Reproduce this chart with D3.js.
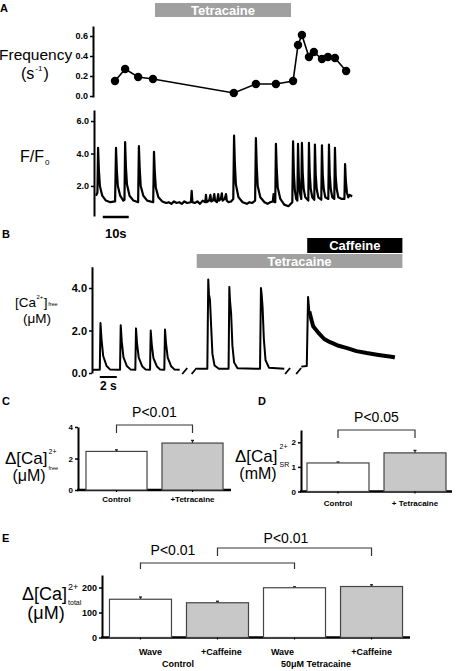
<!DOCTYPE html>
<html><head><meta charset="utf-8">
<script src="https://cdn.jsdelivr.net/npm/d3@7"></script>
<style>
body{margin:0;background:#fff}
svg{display:block}
text{font-family:"Liberation Sans",Arial,sans-serif}
</style>
</head><body>
<svg id="fig" width="474" height="671"></svg>
<script>
// ---------------- DATA ----------------
// Panel A: frequency (s^-1) vs time (s)
const freqTime  = [7.3,11.2,16.2,21.9,53,61.5,69.2,75.8,77.7,79.2,81.9,83.8,86.9,89.2,91.9,96.2];
const freqValue = [0.15,0.27,0.19,0.17,0.03,0.12,0.12,0.15,0.51,0.61,0.39,0.44,0.37,0.39,0.38,0.25];
const freqTicks = [0.0,0.2,0.4,0.6];
const tetraA = [22.7,75];            // s, tetracaine application
// Panel A: F/F0 trace vertices [time s, F/F0]
const ratioTicks = [2,4,6];
const ratioTrace = [
[0,1.4],[0.55,1.6],[0.8,4.35],[1.1,3.0],[1.5,2.0],[2.4,1.4],[3.8,1.1],[5.5,1.0],[7.35,1.05],
[7.7,4.35],[8.0,3.0],[8.4,2.0],[9.3,1.4],[10.5,1.1],[10.95,1.15],
[11.2,4.7],[11.5,3.2],[11.9,2.1],[12.9,1.4],[14.4,1.1],[16.2,1.0],
[16.5,4.45],[16.8,3.1],[17.2,2.0],[18.2,1.4],[19.7,1.1],[22.0,1.0],
[22.3,4.1],[22.6,2.9],[23.0,1.9],[24.0,1.3],[25.5,1.05],[27,0.95],
[28,1.0],[29,0.9],[30,1.05],[31,0.95],[32,1.0],[33,0.9],[34,1.05],[35,0.95],[36.5,1.0],[36.8,1.7],[37.1,1.0],
[38,0.95],[39,1.05],[40,0.9],[41,1.1],[42,1.0],[42.3,1.45],[42.6,1.0],[43.5,1.1],[44,1.45],[44.3,1.05],
[45,1.1],[45.5,1.5],[45.8,1.1],[46.5,1.0],[47,1.5],[47.3,1.1],[48,1.2],[48.4,1.55],[48.7,1.1],[49.5,1.2],
[50,1.5],[50.3,1.1],[51,1.0],[52,1.05],[52.8,1.2],
[53.1,5.1],[53.4,3.4],[53.8,2.1],[54.8,1.3],[56.4,1.0],[58,0.9],[59,1.0],[60,0.95],[61.2,1.1],
[61.5,4.95],[61.8,3.3],[62.2,2.0],[63.2,1.3],[64.8,1.0],[66,0.9],[67,1.0],[68,1.05],[68.3,1.5],[68.6,1.0],[68.95,1.0],
[69.2,4.6],[69.5,3.1],[69.9,1.9],[70.9,1.2],[72.4,0.85],[74,0.75],[75.5,1.0],
[75.8,4.75],[76.1,2.8],[76.5,1.7],[77.0,1.2],[77.45,1.1],
[77.7,4.6],[78.0,2.6],[78.4,1.6],[78.95,1.2],
[79.2,4.65],[79.5,2.8],[79.9,1.8],[80.5,1.3],[81.65,1.1],
[81.9,4.65],[82.2,2.8],[82.6,1.8],[83.2,1.3],[83.95,1.15],
[84.2,4.55],[84.5,2.7],[84.9,1.8],[85.5,1.3],[86.65,1.15],
[86.9,4.5],[87.2,2.7],[87.6,1.8],[88.2,1.3],[89.35,1.2],
[89.6,4.55],[89.9,2.7],[90.3,1.8],[90.9,1.3],[91.65,1.2],
[91.9,4.35],[92.2,2.6],[92.6,1.8],[93.2,1.3],[94.5,1.2],[95.55,1.2],
[95.8,3.35],[96.1,2.3],[96.5,1.6],[97,1.3],[97.6,1.45],[98.5,1.35]
];
const scaleBarA = [2.6,12.6];        // 10 s

// Panel B: [Ca2+]free (uM) vs display time (s), three segments
const caTicks = [0,2,4];
const caSeg1 = [[0,0.15],[0.8,0.15],[0.88,2.35],[1.0,1.6],[1.2,0.8],[1.6,0.33],[2.0,0.17],[3.18,0.15],
[3.26,2.25],[3.38,1.5],[3.58,0.75],[3.98,0.33],[4.4,0.17],[4.98,0.15],
[5.06,2.1],[5.18,1.4],[5.38,0.72],[5.78,0.32],[6.2,0.16],[6.71,0.15],
[6.79,2.0],[6.91,1.35],[7.11,0.7],[7.5,0.32],[7.9,0.16],[8.39,0.15],
[8.47,2.05],[8.59,1.4],[8.79,0.72],[9.19,0.32],[9.6,0.16],[10.2,0.15]];
const caSeg2 = [[12.2,0.2],[13.45,0.2],[13.56,4.4],[13.64,3.7],[13.76,3.45],[13.9,2.2],[14.05,0.9],[14.3,0.35],[14.8,0.2],
[15.95,0.2],[16.04,4.05],[16.12,3.4],[16.25,2.8],[16.4,1.3],[16.6,0.5],[17.0,0.22],
[19.65,0.2],[19.76,4.0],[19.84,3.7],[19.95,3.1],[20.1,1.6],[20.3,0.6],[20.7,0.25],[22.5,0.2]];
const caSeg3 = [[24.5,0.3],[25.15,0.33],[25.3,3.58],[25.45,2.9],[25.7,2.5],[25.9,2.2],[26.5,1.9],[27.2,1.6],[27.9,1.45],
[28.9,1.28],[29.9,1.17],[31,1.03],[32.2,0.94],[33.6,0.85],[35.3,0.75],[35.5,0.73]];
const breakTimes = [10.5,11.6,22.6,23.9];
const tetraB = [12.2,36.4];
const caffB = [25.2,36.4];
const scaleBarB = [0.8,2.8];         // 2 s

// Panel C
const cCats = ["Control","+Tetracaine"];
const cMeans = [2.45,2.98];
const cErr = [0.1,0.17];
const cTicks = [0,2,4];
// Panel D
const dCats = ["Control","+ Tetracaine"];
const dMeans = [1.16,1.57];
const dErr = [0.04,0.1];
const dTicks = [0,1,2];
// Panel E
const eIds = ["w1","c1","w2","c2"];
const eLabels = ["Wave","+Caffeine","Wave","+Caffeine"];
const eGroups = ["Control","50\u03bcM Tetracaine"];
const eMeans = [153,139,199,204];
const eErr = [9,6,4,7];
const eTicks = [0,100,200];
const barFills = ["#ffffff","#c8c8c8"];

// ---------------- DRAW ----------------
const svg = d3.select("#fig");
const FF = '"Liberation Sans",Arial,sans-serif';

function txt(x,y,s,size,opts={}){
  return svg.append("text").attr("x",x).attr("y",y).text(s)
    .attr("font-size",size).attr("font-family",FF)
    .attr("font-weight",opts.bold?"bold":"normal")
    .attr("fill",opts.fill||"#000")
    .attr("text-anchor",opts.anchor||"start");
}
// label made of pieces set left to right; "stack" pieces share x with the previous piece
function chem(x,y,parts){
  let cx=x, prevX=x;
  parts.forEach(p=>{
    const px = p.stack ? prevX : cx + (p.gap||0);
    const t = svg.append("text").attr("x",px).attr("y",y+(p.dy||0))
      .attr("font-size",p.fs).attr("font-family",FF).attr("fill","#000").text(p.t);
    const w = t.node().getComputedTextLength();
    prevX = px;
    cx = Math.max(cx, px+w);
  });
}
function yAxis(scale,x,ticks,fmt,fs){
  const g = svg.append("g").attr("transform",`translate(${x},0)`)
    .call(d3.axisLeft(scale).tickValues(ticks).tickFormat(fmt).tickSize(3).tickSizeOuter(0).tickPadding(2));
  g.select(".domain").attr("stroke","#000").attr("stroke-width",2);
  g.selectAll(".tick line").attr("stroke","#000").attr("stroke-width",1.5);
  g.selectAll(".tick text").attr("font-size",fs).attr("font-weight","bold").attr("font-family",FF).attr("fill","#000");
  return g;
}
function anno(x0,x1,y0,h,label,fill){
  svg.append("rect").attr("x",x0).attr("y",y0).attr("width",x1-x0).attr("height",h).attr("fill",fill);
  txt((x0+x1)/2,y0+h/2+4.5,label,13,{bold:true,fill:"#fff",anchor:"middle"});
}

// Panel letters
txt(0,12,"A",11,{bold:true});
txt(2,238,"B",11,{bold:true});
txt(2,405,"C",11,{bold:true});
txt(258,405,"D",11,{bold:true});
txt(2,542,"E",11,{bold:true});

// ---- Panel A frequency ----
const xA = d3.scaleLinear().domain([0,100]).range([96,356]);
const yF = d3.scaleLinear().domain([-0.01,0.7]).range([97,26]);
anno(xA(tetraA[0]),xA(tetraA[1]),3,14,"Tetracaine","#a0a0a0");
yAxis(yF,93,freqTicks,d3.format(".1f"),9);
const fpts = freqTime.map((t,i)=>[t,freqValue[i]]);
svg.append("path").datum(fpts)
  .attr("d",d3.line().x(d=>xA(d[0])).y(d=>yF(d[1])))
  .attr("fill","none").attr("stroke","#000").attr("stroke-width",1.6);
svg.selectAll(".fdot").data(fpts).enter().append("circle")
  .attr("cx",d=>xA(d[0])).attr("cy",d=>yF(d[1])).attr("r",4.2).attr("fill","#000");
txt(-1,60,"Frequency",15.5);
chem(21,79,[{t:"(s",fs:16},{t:"-1",fs:8,dy:-8,gap:1},{t:")",fs:16,gap:1}]);

// ---- Panel A F/F0 trace ----
const yR = d3.scaleLinear().domain([0.15,6.68]).range([216,110]);
yAxis(yR,94,ratioTicks,d3.format(".1f"),9);
svg.append("path").datum(ratioTrace)
  .attr("d",d3.line().x(d=>xA(d[0])).y(d=>yR(d[1])))
  .attr("fill","none").attr("stroke","#000").attr("stroke-width",2.2).attr("stroke-linejoin","round");
svg.append("line").attr("x1",xA(scaleBarA[0])).attr("x2",xA(scaleBarA[1])).attr("y1",217).attr("y2",217)
  .attr("stroke","#000").attr("stroke-width",2.5);
txt((xA(scaleBarA[0])+xA(scaleBarA[1]))/2,238,"10s",13,{bold:true,anchor:"middle"});
chem(20,162,[{t:"F/F",fs:16},{t:"0",fs:8,dy:3,gap:1}]);

// ---- Panel B ----
const xB = d3.scaleLinear().domain([0,36]).range([93,399]);
const yB = d3.scaleLinear().domain([0,5]).range([373,266.75]);
anno(xB(caffB[0]),xB(caffB[1]),238,15,"Caffeine","#000");
anno(xB(tetraB[0]),xB(tetraB[1]),254,14,"Tetracaine","#a0a0a0");
yAxis(yB,92,caTicks,d3.format(".1f"),11);
const lineB = d3.line().x(d=>xB(d[0])).y(d=>yB(d[1]));
[caSeg1,caSeg2,caSeg3].forEach(seg=>{
  svg.append("path").datum(seg).attr("d",lineB)
    .attr("fill","none").attr("stroke","#000").attr("stroke-width",2).attr("stroke-linejoin","round");
});
svg.append("path").datum(caSeg3.filter(d=>d[0]>=25.45)).attr("d",lineB)
  .attr("fill","none").attr("stroke","#000").attr("stroke-width",4).attr("stroke-linejoin","round");
breakTimes.forEach(t=>{
  svg.append("line").attr("x1",xB(t)).attr("y1",yB(0)+1).attr("x2",xB(t)+5).attr("y2",yB(0)-5)
    .attr("stroke","#000").attr("stroke-width",1.8);
});
svg.append("line").attr("x1",xB(scaleBarB[0])).attr("x2",xB(scaleBarB[1])).attr("y1",377).attr("y2",377)
  .attr("stroke","#000").attr("stroke-width",2);
txt((xB(scaleBarB[0])+xB(scaleBarB[1]))/2,390,"2 s",12,{bold:true,anchor:"middle"});
chem(15,307,[{t:"[Ca",fs:13.5},{t:"2+",fs:6,dy:-8,gap:0.5},{t:"]",fs:13.5,gap:0.5},{t:"free",fs:5.5,dy:-1,gap:0.5}]);
txt(37,323,"(\u03bcM)",13.5,{anchor:"middle"});

// ---- bar chart helper ----
function barPanel(o){
  const x = d3.scaleBand().domain(o.ids).range(o.xr).paddingInner(o.pi).paddingOuter(o.po);
  const y = d3.scaleLinear().domain(o.yd).range(o.yr);
  yAxis(y,o.xr[0],o.ticks,d3.format("d"),o.tfs);
  svg.append("line").attr("x1",o.xr[0]-1).attr("x2",o.xr[1]).attr("y1",y(0)).attr("y2",y(0))
    .attr("stroke","#000").attr("stroke-width",2.5);
  o.ids.forEach((id,i)=>{
    const cx = x(id)+x.bandwidth()/2;
    svg.append("line").attr("x1",cx).attr("x2",cx).attr("y1",y(o.means[i])).attr("y2",y(o.means[i]+o.err[i]))
      .attr("stroke","#222").attr("stroke-width",1.3);
    svg.append("line").attr("x1",cx-1.5).attr("x2",cx+1.5).attr("y1",y(o.means[i]+o.err[i])).attr("y2",y(o.means[i]+o.err[i]))
      .attr("stroke","#222").attr("stroke-width",1.3);
    svg.append("rect").attr("x",x(id)).attr("y",y(o.means[i])).attr("width",x.bandwidth())
      .attr("height",y(0)-y(o.means[i])).attr("fill",o.fills[i]).attr("stroke","#444").attr("stroke-width",1.2);
    svg.append("line").attr("x1",cx).attr("x2",cx).attr("y1",y(0)).attr("y2",y(0)+2)
      .attr("stroke","#000").attr("stroke-width",1.2);
    txt(cx+(o.lxoff?o.lxoff[i]:0),o.ly,o.labels[i],o.lfs,{bold:true,anchor:"middle"});
  });
  return {x,y,c:id=>x(id)+x.bandwidth()/2};
}
function bracket(x0,x1,yTop,yBot){
  svg.append("path").attr("d",`M${x0},${yBot}V${yTop}H${x1}V${yBot}`)
    .attr("fill","none").attr("stroke","#333").attr("stroke-width",1.2);
}

// ---- Panel C ----
const pc = barPanel({ids:cCats,labels:cCats,xr:[78,231],pi:0.197,po:0.105,yd:[0,4],yr:[490,427],
  ticks:cTicks,tfs:8,means:cMeans,err:cErr,fills:barFills,ly:502,lfs:8});
bracket(pc.c(cCats[0]),pc.c(cCats[1]),425,433);
txt((pc.c(cCats[0])+pc.c(cCats[1]))/2,417,"P<0.01",14,{anchor:"middle"});
chem(5,464,[{t:"\u0394[Ca]",fs:17},{t:"2+",fs:7,dy:-10,gap:1},{t:"free",fs:5.5,dy:6,stack:true}]);
txt(29,481,"(\u03bcM)",16,{anchor:"middle"});

// ---- Panel D ----
const pd = barPanel({ids:dCats,labels:dCats,xr:[301,452],pi:0.195,po:0.078,yd:[0,2.5],yr:[491.5,430],
  ticks:dTicks,tfs:8,means:dMeans,err:dErr,fills:barFills,ly:506,lfs:8});
bracket(pd.c(dCats[0]),pd.c(dCats[1]),430,438);
txt((pd.c(dCats[0])+pd.c(dCats[1]))/2,422,"P<0.05",14,{anchor:"middle"});
chem(235,462,[{t:"\u0394[Ca]",fs:17},{t:"2+",fs:7,dy:-13,gap:2},{t:"SR",fs:7,dy:5,stack:true}]);
txt(258,479,"(mM)",16,{anchor:"middle"});

// ---- Panel E ----
const pe = barPanel({ids:eIds,labels:eLabels,xr:[102,410],pi:0.195,po:0.097,yd:[0,250],yr:[637.5,575],
  ticks:eTicks,tfs:9,means:eMeans,err:eErr,fills:[barFills[0],barFills[1],barFills[0],barFills[1]],ly:655,lfs:9,
  lxoff:[10,4,-12,0]});
bracket(pe.c("w1"),pe.c("w2"),563,569);
bracket(pe.c("c1"),pe.c("c2"),548,556);
txt(173,555,"P<0.01",14,{anchor:"middle"});
txt(286,543,"P<0.01",14,{anchor:"middle"});
txt(178,667,eGroups[0],9,{bold:true,anchor:"middle"});
txt(316,667,eGroups[1],9,{bold:true,anchor:"middle"});
chem(22,600,[{t:"\u0394[Ca]",fs:18},{t:"2+",fs:9,dy:-10,gap:1},{t:"total",fs:7,dy:5,stack:true}]);
txt(46,619,"(\u03bcM)",18,{anchor:"middle"});
</script>
</body></html>
